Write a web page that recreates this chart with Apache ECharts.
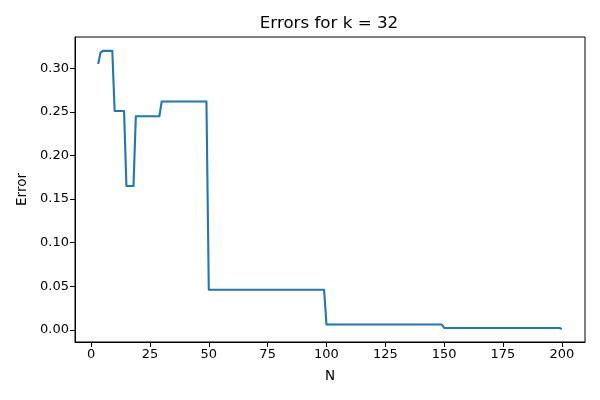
<!DOCTYPE html>
<html>
<head>
<meta charset="utf-8">
<script src="https://cdn.jsdelivr.net/npm/echarts@6/dist/echarts.min.js"></script>
<style>html,body{margin:0;padding:0;background:#fff}#c{width:600px;height:400px}</style>
</head>
<body>
<div id="c"></div>
<script>
// Breakpoints of the step-like error curve (N, Error)
const nValues     = [3,     4,     5,    9,    10,    14,    15,    18,    19,    29,    30,    49,    50,    99,    100,   149,   150,   199,   200];
const errorValues = [0.305, 0.318, 0.32, 0.32, 0.251, 0.251, 0.165, 0.165, 0.245, 0.245, 0.262, 0.262, 0.046, 0.046, 0.0062, 0.0062, 0.0022, 0.0022, 0.001];
const xTicks = [0, 25, 50, 75, 100, 125, 150, 175, 200];
const yTicks = [0, 0.05, 0.10, 0.15, 0.20, 0.25, 0.30];
const titleText = 'Errors for k = 32';

const font = 'DejaVu Sans';
const chart = echarts.init(document.getElementById('c'), null, {renderer: 'canvas'});
chart.setOption({
  animation: false,
  backgroundColor: '#fff',
  graphic: [{
    type: 'text', x: 329, y: 23.5,
    style: {text: titleText, fontFamily: font, fontSize: 16.7, fill: '#000', align: 'center', verticalAlign: 'middle'}
  }],
  grid: {left: 75, right: 15, top: 37, bottom: 58, show: true, borderColor: '#000', borderWidth: 1, backgroundColor: 'transparent'},
  xAxis: {
    type: 'value', min: -6.85, max: 209.85,
    name: 'N', nameLocation: 'middle', nameGap: 27,
    nameTextStyle: {fontFamily: font, fontSize: 13.5, color: '#000'},
    splitLine: {show: false},
    axisLine: {show: true, onZero: false, lineStyle: {color: '#000', width: 1}},
    axisTick: {show: true, length: 5, lineStyle: {color: '#000'}, customValues: xTicks},
    axisLabel: {fontFamily: font, fontSize: 13, color: '#000', margin: 6, customValues: xTicks, formatter: v => String(Math.round(v))}
  },
  yAxis: {
    type: 'value', min: -0.0139, max: 0.3359,
    name: 'Error', nameLocation: 'middle', nameGap: 46, nameRotate: 90,
    nameTextStyle: {fontFamily: font, fontSize: 13.5, color: '#000'},
    splitLine: {show: false},
    axisLine: {show: true, onZero: false, lineStyle: {color: '#000', width: 1}},
    axisTick: {show: true, length: 5, lineStyle: {color: '#000'}, customValues: yTicks},
    axisLabel: {fontFamily: font, fontSize: 13, color: '#000', margin: 6, customValues: yTicks, formatter: v => v.toFixed(2)}
  },
  series: [{
    type: 'line',
    data: nValues.map((n, i) => [n, errorValues[i]]),
    showSymbol: false,
    lineStyle: {color: '#1f77b4', width: 2.1, join: 'round'},
    itemStyle: {color: '#1f77b4'}
  }]
});
</script>
</body>
</html>
